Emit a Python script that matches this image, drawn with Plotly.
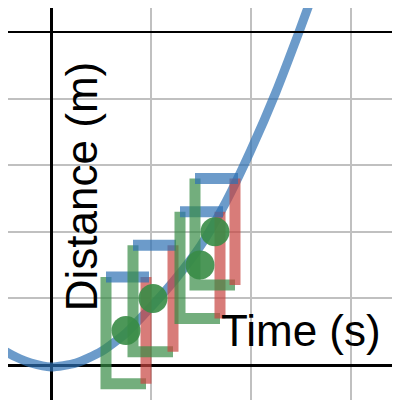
import plotly.graph_objects as go

curve_x = [-0.45, -0.35, -0.2, 0.0, 0.25, 0.5, 0.75, 1.0, 1.25, 1.5, 1.75, 2.0, 2.25, 2.48, 2.7]
curve_y = [0.2, 0.12, 0.03, -0.03, 0.03, 0.2, 0.48, 0.87, 1.3, 1.8, 2.45, 3.23, 4.1, 5.0, 5.9]

dot_x = [0.75, 1.02, 1.49, 1.64]
dot_y = [0.52, 1.0, 1.5, 2.0]
half_w = 0.2
half_h = 0.8

fig = go.Figure()
fig.add_trace(go.Scatter(x=curve_x, y=curve_y, mode="lines", line=dict(color="rgba(45,112,179,0.7)", width=9, shape="spline", smoothing=0.6), hoverinfo="skip"))

for cx, cy in zip(dot_x, dot_y):
    x0, x1, y0, y1 = cx - half_w, cx + half_w, cy - half_h, cy + half_h
    fig.add_trace(go.Scatter(x=[x0, x0, x1], y=[y1, y0, y0], mode="lines", line=dict(color="rgba(56,140,70,0.7)", width=11)))
    fig.add_trace(go.Scatter(x=[x1, x1], y=[y0, y1], mode="lines", line=dict(color="rgba(199,68,64,0.7)", width=11)))
    fig.add_trace(go.Scatter(x=[x0, x1 + 0.03], y=[y1, y1], mode="lines", line=dict(color="rgba(45,112,179,0.7)", width=11)))

fig.add_trace(go.Scatter(x=dot_x, y=dot_y, mode="markers", marker=dict(color="rgba(56,140,70,0.9)", size=29)))

fig.add_shape(type="line", x0=-0.5, x1=3.7, y0=5, y1=5, line=dict(color="black", width=2))

fig.add_annotation(x=0.3, y=2.67, text="Distance (m)", textangle=-90, showarrow=False, font=dict(size=44, color="black", family="Liberation Sans"))
fig.add_annotation(x=2.5, y=0.52, text="Time (s)", showarrow=False, font=dict(size=44, color="black", family="Liberation Sans"))

fig.update_layout(
    width=400, height=400, margin=dict(l=0, r=0, t=0, b=0),
    plot_bgcolor="white", paper_bgcolor="white", showlegend=False,
    xaxis=dict(range=[-0.43, 3.57], dtick=1, showticklabels=False, gridcolor="#c0c0c0", gridwidth=1.5,
               zeroline=True, zerolinecolor="black", zerolinewidth=3),
    yaxis=dict(range=[-0.645, 5.36], dtick=1, showticklabels=False, gridcolor="#c0c0c0", gridwidth=1.5,
               zeroline=True, zerolinecolor="black", zerolinewidth=3),
)
fig.write_html("out.html")
